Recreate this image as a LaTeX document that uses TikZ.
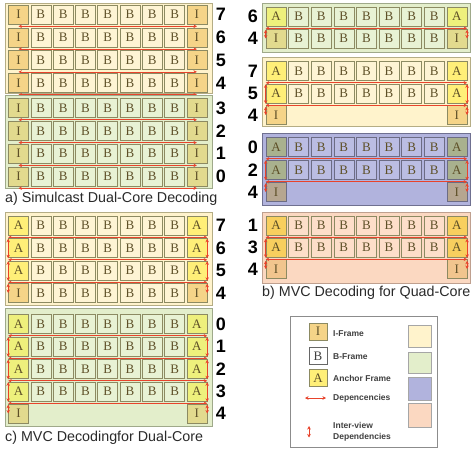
\documentclass[tikz,border=0pt]{standalone}
\usepackage{fontspec}
\setmainfont{Liberation Serif}
\newfontfamily\sansf{Liberation Sans}
\usetikzlibrary{arrows.meta}
\definecolor{ybg}{HTML}{FFF3CC}
\definecolor{ybd}{HTML}{B5AD85}
\definecolor{gbg}{HTML}{E3EECB}
\definecolor{gbd}{HTML}{9FA98A}
\definecolor{bbg}{HTML}{B1B3DD}
\definecolor{bbd}{HTML}{6F7090}
\definecolor{obg}{HTML}{FBD8C1}
\definecolor{obd}{HTML}{BFA08F}
\definecolor{yIc}{HTML}{F5D488}
\definecolor{yAc}{HTML}{FFEF78}
\definecolor{yBc}{HTML}{FEF4D4}
\definecolor{gIc}{HTML}{E2DA8E}
\definecolor{gAc}{HTML}{EEF07C}
\definecolor{gBc}{HTML}{E8F2D4}
\definecolor{bIc}{HTML}{B6A690}
\definecolor{bAc}{HTML}{A9B18E}
\definecolor{bBc}{HTML}{BBBDE3}
\definecolor{oIc}{HTML}{F1C58E}
\definecolor{oAc}{HTML}{F8CF5E}
\definecolor{oBc}{HTML}{FDDEC9}
\definecolor{celld}{HTML}{8C8A62}
\definecolor{bcelld}{HTML}{6C6C84}
\definecolor{letter}{HTML}{5E5028}
\definecolor{depred}{HTML}{E8432B}
\definecolor{legtext}{HTML}{404040}
\definecolor{capt}{HTML}{2A2A2A}
\newcommand\framerow[7]{% prefix, y, x0, end style, B style, end letter, pitch
  \node[#4] (#1-0) at (#3,#2) {#6};
  \foreach \i in {1,...,7} \node[#5] (#1-\i) at ({#3+#7*\i},#2) {B};
  \node[#4] (#1-8) at ({#3+8*#7},#2) {#6};
}
\newcommand\iendrow[5]{% prefix, y, x0, style, pitch
  \node[#4] (#1-0) at (#3,#2) {I};
  \node[#4] (#1-8) at ({#3+8*#5},#2) {I};
}
\begin{document}
\begin{tikzpicture}[x=1pt,y=-1pt,
  cell/.style={minimum width=20pt,minimum height=19pt,inner sep=0pt,line width=0.6pt,draw=celld,text=letter,font=\fontsize{13}{13}\selectfont},
  cyI/.style={cell,fill=yIc}, cyA/.style={cell,fill=yAc}, cyB/.style={cell,fill=yBc},
  cgI/.style={cell,fill=gIc}, cgA/.style={cell,fill=gAc}, cgB/.style={cell,fill=gBc},
  cbI/.style={cell,fill=bIc,draw=bcelld}, cbA/.style={cell,fill=bAc,draw=bcelld}, cbB/.style={cell,fill=bBc,draw=bcelld},
  coI/.style={cell,fill=oIc}, coA/.style={cell,fill=oAc}, coB/.style={cell,fill=oBc},
  lab/.style={font=\sansf\bfseries\fontsize{18}{18}\selectfont,inner sep=0pt},
  capn/.style={font=\sansf\fontsize{14.3}{16}\selectfont,text=capt,inner sep=0pt,anchor=west},
  legt/.style={font=\sansf\bfseries\fontsize{8.5}{11}\selectfont,text=legtext,inner sep=0pt,anchor=west,align=left},
  dep/.style={draw=depred,line width=0.8pt,{Stealth[length=3.5pt,width=3.5pt]}-{Stealth[length=3.5pt,width=3.5pt]}},
  grp/.style={line width=0.8pt}]
\useasboundingbox[fill=white] (0,0) rectangle (474,471);

% ---------------- panel a ----------------
\filldraw[grp,fill=ybg,draw=ybd] (5,3) rectangle (212,93);
\foreach \v/\y in {7/14.5,6/37.3,5/60.1,4/82.9}{
  \framerow{a\v}{\y}{18.5}{cyI}{cyB}{I}{22.3}
  \node[lab] (a\v-l) at (221,\y) {\v};
  \draw[dep] ([yshift=-2pt]a\v-0.south) -- ([yshift=-2pt]a\v-8.south);
}
\filldraw[grp,fill=gbg,draw=gbd] (5,95) rectangle (212,188);
\foreach \v/\y in {3/108,2/130.8,1/153.6,0/176.4}{
  \framerow{a\v}{\y}{18.5}{cgI}{cgB}{I}{22.3}
  \node[lab] (a\v-l) at (221,\y) {\v};
  \draw[dep] ([yshift=-2pt]a\v-0.south) -- ([yshift=-2pt]a\v-8.south);
}
\node[capn] (capa) at (5,199) {a) Simulcast Dual-Core Decoding};

% ---------------- panel c ----------------
\filldraw[grp,fill=ybg,draw=ybd] (5,212) rectangle (212,305);
\foreach \v/\y in {7/225.5,6/248,5/270.5}{
  \framerow{c\v}{\y}{18.5}{cyA}{cyB}{A}{22.3}
  \node[lab] (c\v-l) at (221,\y) {\v};
  \draw[dep] ([yshift=-2pt]c\v-0.south west) -- ([yshift=-2pt]c\v-8.south east);
}
\framerow{c4}{293}{18.5}{cyI}{cyB}{I}{22.3}
\node[lab] (c4-l) at (221,293) {4};
\foreach \p/\q in {c7/c6,c6/c5}{
  \draw[dep] ([yshift=-3.5pt]\p-0.south west) -- ([yshift=-0.5pt]\q-0.south west);
  \draw[dep] ([yshift=-3.5pt]\p-8.south east) -- ([yshift=-0.5pt]\q-8.south east);
}
\draw[dep] ([yshift=-3.5pt]c5-0.south west) -- (c4-0.west);
\draw[dep] ([yshift=-3.5pt]c5-8.south east) -- (c4-8.east);

\filldraw[grp,fill=gbg,draw=gbd] (5,308) rectangle (212,426);
\foreach \v/\y in {0/324,1/346.5,2/369,3/391.5}{
  \framerow{g\v}{\y}{18.5}{cgA}{cgB}{A}{22.3}
  \node[lab] (g\v-l) at (221,\y) {\v};
  \draw[dep] ([yshift=-2pt]g\v-0.south west) -- ([yshift=-2pt]g\v-8.south east);
}
\iendrow{g4}{413.5}{18.5}{cgI}{22.3}
\node[lab] (g4-l) at (221,413.5) {4};
\foreach \p/\q in {g0/g1,g1/g2,g2/g3}{
  \draw[dep] ([yshift=-3.5pt]\p-0.south west) -- ([yshift=-0.5pt]\q-0.south west);
  \draw[dep] ([yshift=-3.5pt]\p-8.south east) -- ([yshift=-0.5pt]\q-8.south east);
}
\draw[dep] ([yshift=-3.5pt]g3-0.south west) -- (g4-0.west);
\draw[dep] ([yshift=-3.5pt]g3-8.south east) -- (g4-8.east);
\node[capn] (capc) at (5,438) {c) MVC Decodingfor Dual-Core};

% ---------------- panel b ----------------
% group 1 (green)
\filldraw[grp,fill=gbg,draw=gbd] (262,3) rectangle (470,52);
\framerow{p6}{16.5}{276}{cgA}{cgB}{A}{22.6}
\framerow{p4}{38.5}{276}{cgI}{cgB}{I}{22.6}
\node[lab] (p6-l) at (253,16.5) {6};
\node[lab] (p4-l) at (253,38.5) {4};
\draw[dep] ([yshift=-2pt]p6-0.south west) -- ([yshift=-2pt]p6-8.south east);
\draw[dep] ([yshift=-3.5pt]p6-0.south west) -- (p4-0.west);
\draw[dep] ([yshift=-3.5pt]p6-8.south east) -- (p4-8.east);
% group 2 (yellow)
\filldraw[grp,fill=ybg,draw=ybd] (262,57) rectangle (470,126);
\framerow{q7}{71}{276}{cyA}{cyB}{A}{22.6}
\framerow{q5}{93.5}{276}{cyA}{cyB}{A}{22.6}
\iendrow{q4}{115}{276}{cyI}{22.6}
\node[lab] (q7-l) at (253,71) {7};
\node[lab] (q5-l) at (253,93.5) {5};
\node[lab] (q4-l) at (253,115) {4};
\foreach \r in {q7,q5}
  \draw[dep] ([yshift=-2pt]\r-0.south west) -- ([yshift=-2pt]\r-8.south east);
\draw[dep] ([yshift=-3.5pt]q7-0.south west) -- ([yshift=-0.5pt]q5-0.south west);
\draw[dep] ([yshift=-3.5pt]q7-8.south east) -- ([yshift=-0.5pt]q5-8.south east);
\draw[dep] ([yshift=-3.5pt]q5-0.south west) -- (q4-0.west);
\draw[dep] ([yshift=-3.5pt]q5-8.south east) -- (q4-8.east);
% group 3 (blue)
\filldraw[grp,fill=bbg,draw=bbd] (262,133) rectangle (470,205);
\framerow{r0}{147}{276}{cbA}{cbB}{A}{22.6}
\framerow{r2}{170}{276}{cbA}{cbB}{A}{22.6}
\iendrow{r4}{192}{276}{cbI}{22.6}
\node[lab] (r0-l) at (253,147) {0};
\node[lab] (r2-l) at (253,170) {2};
\node[lab] (r4-l) at (253,192) {4};
\foreach \r in {r0,r2}
  \draw[dep] ([yshift=-2pt]\r-0.south west) -- ([yshift=-2pt]\r-8.south east);
\draw[dep] ([yshift=-3.5pt]r0-0.south west) -- ([yshift=-0.5pt]r2-0.south west);
\draw[dep] ([yshift=-3.5pt]r0-8.south east) -- ([yshift=-0.5pt]r2-8.south east);
\draw[dep] ([yshift=-3.5pt]r2-0.south west) -- (r4-0.west);
\draw[dep] ([yshift=-3.5pt]r2-8.south east) -- (r4-8.east);
% group 4 (orange)
\filldraw[grp,fill=obg,draw=obd] (262,212) rectangle (470,283);
\framerow{s1}{225.5}{276}{coA}{coB}{A}{22.6}
\framerow{s3}{247.5}{276}{coA}{coB}{A}{22.6}
\iendrow{s4}{269}{276}{coI}{22.6}
\node[lab] (s1-l) at (253,225.5) {1};
\node[lab] (s3-l) at (253,247.5) {3};
\node[lab] (s4-l) at (253,269) {4};
\foreach \r in {s1,s3}
  \draw[dep] ([yshift=-2pt]\r-0.south west) -- ([yshift=-2pt]\r-8.south east);
\draw[dep] ([yshift=-3.5pt]s1-0.south west) -- ([yshift=-0.5pt]s3-0.south west);
\draw[dep] ([yshift=-3.5pt]s1-8.south east) -- ([yshift=-0.5pt]s3-8.south east);
\draw[dep] ([yshift=-3.5pt]s3-0.south west) -- (s4-0.west);
\draw[dep] ([yshift=-3.5pt]s3-8.south east) -- (s4-8.east);
\node[capn] (capb) at (262,293) {b) MVC Decoding for Quad-Core};

% ---------------- legend ----------------
\filldraw[fill=white,draw=black!45,line width=0.8pt] (290,316) rectangle (437,447);
\node[cell,fill=yIc,minimum width=18pt,minimum height=17pt] (lgI) at (318,331.5) {I};
\node[legt] (lgIt) at (333,334) {I-Frame};
\node[cell,fill=white,draw=black!60,text=black!75,minimum width=18pt,minimum height=17pt] (lgB) at (318,356) {B};
\node[legt] (lgBt) at (333,357) {B-Frame};
\node[cell,fill=yAc,minimum width=18pt,minimum height=17pt] (lgA) at (318,378) {A};
\node[legt] (lgAt) at (333,378) {Anchor Frame};
\coordinate (lgd1) at (305,398);
\coordinate (lgd2) at (326,398);
\draw[dep] (lgd1) -- (lgd2);
\node[legt] (lgDt) at (333,398) {Depencencies};
\coordinate (lgv1) at (309,426);
\coordinate (lgv2) at (309,437.5);
\draw[dep] (lgv1) -- (lgv2);
\node[legt] (lgVt) at (333,431.5) {Inter-view\\Dependencies};
\filldraw[fill=ybg,draw=black!35] (408,325) rectangle (431,347);
\filldraw[fill=gbg,draw=black!35] (408,352) rectangle (431,373);
\filldraw[fill=bbg,draw=black!35] (408,377) rectangle (431,400);
\filldraw[fill=obg,draw=black!35] (408,403) rectangle (431,427);
\end{tikzpicture}
\end{document}
